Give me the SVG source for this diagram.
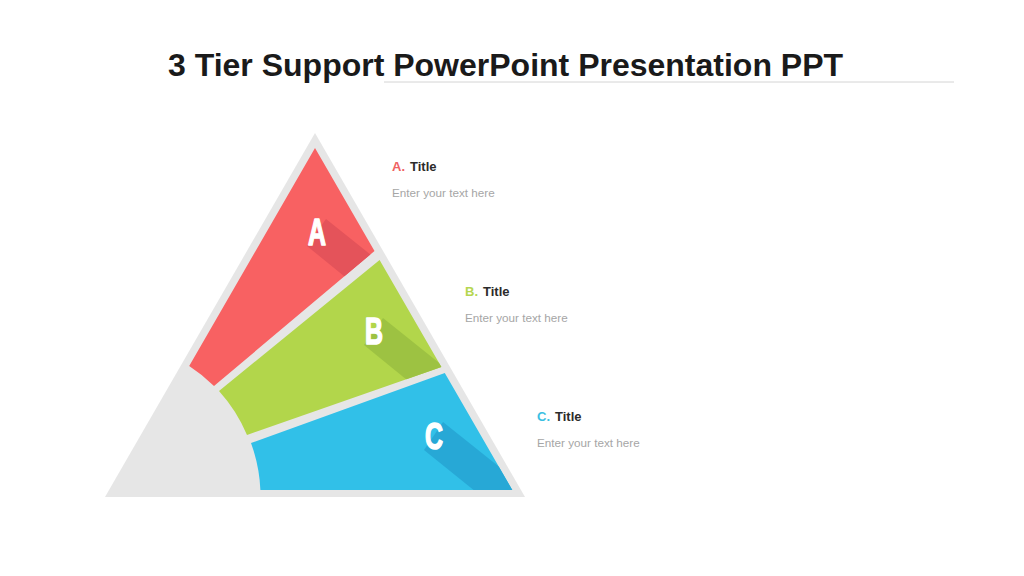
<svg xmlns="http://www.w3.org/2000/svg" width="1024" height="576" viewBox="0 0 1024 576">
  <style>
    .title { font-family: "Liberation Sans", Arial, sans-serif; font-weight: bold; font-size: 32px; fill: #1a1a1a; }
    .letter { font-family: "Liberation Sans", Arial, sans-serif; font-weight: bold; font-size: 37px; fill: #ffffff; stroke: #ffffff; stroke-width: 1.6; stroke-linejoin: round; }
    .lab { font-family: "Liberation Sans", Arial, sans-serif; font-weight: bold; font-size: 13px; }
    .lt { fill: #2b2b2b; }
    .desc { font-family: "Liberation Sans", Arial, sans-serif; font-size: 11.7px; fill: #a6a6a6; }
  </style>
  <defs>
    <path id="segA" d="M315,148 L374.5,251 L214,386 A155.6,155.6 0 0 0 189.2,366 Z"/>
    <path id="segB" d="M219,391 L379.6,260 L441.4,367 L247,435 A155.6,155.6 0 0 0 219,391 Z"/>
    <path id="segC" d="M251,443 L444.8,373 L512.3,490 L260.4,490 A155.6,155.6 0 0 0 251,443 Z"/>
    <clipPath id="clipA"><use href="#segA"/></clipPath>
    <clipPath id="clipB"><use href="#segB"/></clipPath>
    <clipPath id="clipC"><use href="#segC"/></clipPath>
  </defs>
  <rect width="1024" height="576" fill="#ffffff"/>

  <g id="title">
    <text class="title" x="168" y="76">3 Tier Support PowerPoint Presentation PPT</text>
    <line x1="384" y1="82" x2="954" y2="82" stroke="#d4d4d4" stroke-width="1"/>
  </g>

  <g id="pyramid-base">
    <polygon points="315,133 105,497 525,497" fill="#e6e6e6"/>
  </g>

  <g id="tier-a">
    <use href="#segA" fill="#f86162"/>
    <polygon points="326,219 476,339 457,368 307,246" fill="#e4535a" clip-path="url(#clipA)"/>
    <text class="letter" x="308" y="245" textLength="18" lengthAdjust="spacingAndGlyphs">A</text>
  </g>

  <g id="tier-b">
    <use href="#segB" fill="#b2d64b"/>
    <polygon points="383,318 533,438 514,467 364,345" fill="#9dc242" clip-path="url(#clipB)"/>
    <text class="letter" x="365" y="344" textLength="18" lengthAdjust="spacingAndGlyphs">B</text>
  </g>

  <g id="tier-c">
    <use href="#segC" fill="#31c0e8"/>
    <polygon points="443,422 593,542 574,571 424,450" fill="#27a8d6" clip-path="url(#clipC)"/>
    <text class="letter" x="425" y="449" textLength="18" lengthAdjust="spacingAndGlyphs">C</text>
  </g>

  <g id="label-a">
    <text class="lab" x="392" y="171"><tspan fill="#f06262">A.</tspan><tspan class="lt" dx="5">Title</tspan></text>
    <text class="desc" x="392" y="197">Enter your text here</text>
  </g>
  <g id="label-b">
    <text class="lab" x="465" y="296"><tspan fill="#b5d650">B.</tspan><tspan class="lt" dx="5">Title</tspan></text>
    <text class="desc" x="465" y="322">Enter your text here</text>
  </g>
  <g id="label-c">
    <text class="lab" x="537" y="421"><tspan fill="#3bbfe2">C.</tspan><tspan class="lt" dx="5">Title</tspan></text>
    <text class="desc" x="537" y="447">Enter your text here</text>
  </g>
</svg>
